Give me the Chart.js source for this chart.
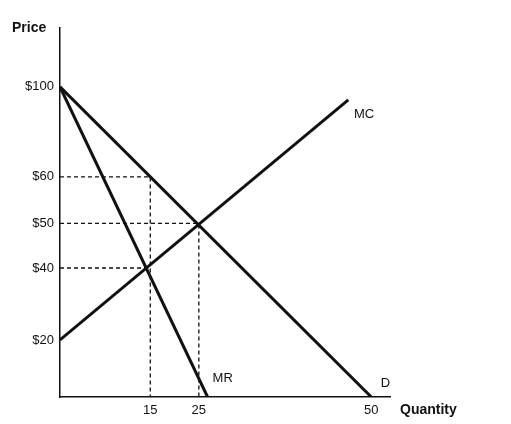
<!DOCTYPE html>
<html><head><script src="https://cdn.jsdelivr.net/npm/chart.js@4"></script>
<style>body{margin:0;background:#fff}#w{width:511px;height:424px}</style></head>
<body><div id="w"><canvas id="c"></canvas></div>
<script>
// values (schematic axis units)
const demandX=[0,50], demandY=[100,0];
const mrX=[0,23.7], mrY=[100,0];
const mcX=[0,46.3], mcY=[18.4,95.8];
const yTickVals=[18.4,41.6,56,71,100], yTickLabels=['$20','$40','$50','$60','$100'];
const xTickVals=[14.5,22.3,50], xTickLabels=['15','25','50'];
const guideQ=[14.5,22.3,14.5], guideP=[71,56,41.6], guideVertical=[true,true,false];
const seriesLabels=[{t:'MC',x:47.2,y:91},{t:'MR',x:24.5,y:6},{t:'D',x:51.5,y:4.5}];

const pts=(xs,ys)=>xs.map((x,i)=>({x,y:ys[i]}));
const ds=[
 {data:pts(demandX,demandY)},{data:pts(mrX,mrY)},{data:pts(mcX,mcY)}
].map(d=>Object.assign(d,{borderColor:'#111',borderWidth:3,pointRadius:0,showLine:true,fill:false}));
guideQ.forEach((q,i)=>{
 const d=[{x:0,y:guideP[i]},{x:q,y:guideP[i]}];
 if(guideVertical[i]) d.push({x:q,y:0});
 ds.push({data:d,borderColor:'#111',borderWidth:1.3,borderDash:[4,3],pointRadius:0,showLine:true,fill:false});
});
const font={family:'Liberation Sans, Arial',size:13};
const textPlug={id:'txt',afterDraw(ch){
 const c=ch.ctx,xs=ch.scales.x,ys=ch.scales.y;c.save();c.fillStyle='#111';
 c.font='13px Liberation Sans, Arial';c.textAlign='left';c.textBaseline='middle';
 seriesLabels.forEach(l=>c.fillText(l.t,xs.getPixelForValue(l.x),ys.getPixelForValue(l.y)));
 c.font='bold 14px Liberation Sans, Arial';
 c.fillText('Price',12,28);c.fillText('Quantity',400,410);
 c.restore();}};
new Chart(document.getElementById('c'),{type:'scatter',data:{datasets:ds},plugins:[textPlug],
 options:{responsive:true,maintainAspectRatio:false,animation:false,
  layout:{padding:{top:28,right:121,left:0,bottom:0}},
  plugins:{legend:{display:false},tooltip:{enabled:false}},
  scales:{
   x:{min:0,max:53,grid:{display:false,drawTicks:false},border:{color:'#111',width:1.5},
      afterBuildTicks:s=>{s.ticks=xTickVals.map(v=>({value:v}))},
      afterFit:s=>{s.height=27},
      ticks:{color:'#111',font,padding:6,maxRotation:0,autoSkip:false,callback:(v)=>xTickLabels[xTickVals.indexOf(v)]}},
   y:{min:0,max:119,grid:{display:false,drawTicks:false},border:{color:'#111',width:1.5},
      afterBuildTicks:s=>{s.ticks=yTickVals.map(v=>({value:v}))},
      afterFit:s=>{s.width=60},
      ticks:{color:'#111',font,padding:6,autoSkip:false,callback:(v)=>yTickLabels[yTickVals.indexOf(v)]}}
  }}});
</script></body></html>
